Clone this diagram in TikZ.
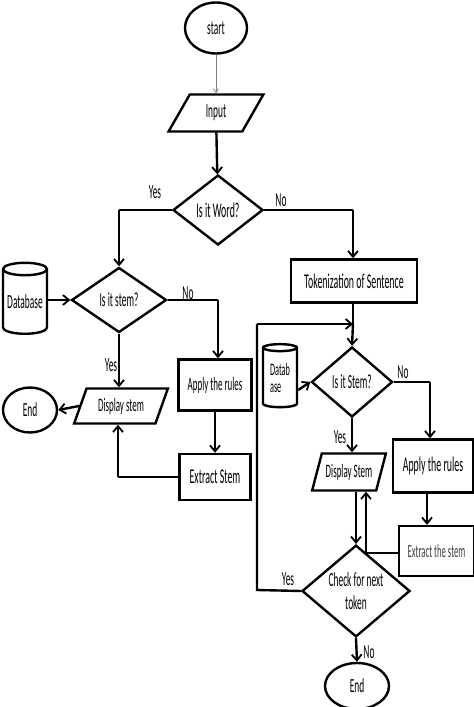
\documentclass[tikz,border=0pt]{standalone}
\usepackage{fontspec}
\setmainfont{Carlito}[FakeStretch=0.47]
\usetikzlibrary{shapes.geometric,arrows.meta}
\newcommand{\fs}[1]{\fontsize{#1}{#1}\selectfont}
\tikzset{
  x=1pt,y=-1pt,
  box/.style={draw,line width=2.4pt,inner sep=0pt,align=center},
  rectbox/.style={box,rectangle},
  decision/.style={box,diamond},
  para/.style={box,trapezium,trapezium left angle=63,trapezium right angle=117,trapezium stretches=true},
  oval/.style={box,ellipse},
  db/.style={box,cylinder,shape border rotate=90,aspect=0.35},
  conn/.style={line width=2.4pt,-{Straight Barb[length=6pt,width=10pt,line width=1.8pt]}},
  plain/.style={line width=2.4pt},
  lbl/.style={inner sep=0pt,font=\fs{20}}
}
\begin{document}
\begin{tikzpicture}
\useasboundingbox (0,0) rectangle (474,707);
% nodes
\node[oval,minimum width=62,minimum height=51,font=\fs{20}] (start) at (216,28) {\raisebox{-7pt}{start}};
\node[para,minimum width=95,minimum height=37,font=\fs{20}] (input) at (216,113) {Input};
\node[decision,minimum width=90,minimum height=70,font=\fs{21}] (word) at (218,210) {Is it Word?};
\node[decision,minimum width=95,minimum height=65,font=\fs{20}] (stem1) at (119,300) {Is it stem?};
\node[db,minimum width=44,minimum height=71,font=\fs{20}] (db1) at (25,302) {\raisebox{-6pt}{Database}};
\node[rectbox,minimum width=73,minimum height=51,font=\fs{19}] (apply1) at (215,385) {Apply the rules};
\node[rectbox,minimum width=71,minimum height=46,font=\fs{21}] (extract1) at (215,477) {Extract Stem};
\node[para,minimum width=94,minimum height=35,font=\fs{19}] (disp1) at (121,406) {Display stem};
\node[oval,minimum width=54,minimum height=45,font=\fs{20}] (end1) at (30,410) {End};
\node[rectbox,minimum width=126,minimum height=43,font=\fs{21}] (token) at (354,281) {Tokenization of Sentence};
\node[decision,minimum width=81,minimum height=70,font=\fs{20}] (stem2) at (352,382) {Is it Stem?};
\node[db,minimum width=34,minimum height=63,font=\fs{17.5},align=left] (db2) at (280,378) {\raisebox{-4pt}{Datab}\\[3pt]ase};
\node[rectbox,minimum width=80,minimum height=53,font=\fs{21}] (apply2) at (433,466) {Apply the rules};
\node[para,minimum width=74,minimum height=37,font=\fs{19}] (disp2) at (349,472) {Display Stem};
\node[rectbox,minimum width=75,minimum height=50,font=\fs{18.5},text=black!75] (extract2) at (436.5,551) {Extract the stem};
\node[decision,minimum width=108,minimum height=72,font=\fs{20}] (check) at (356,591) {Check for next\\[3pt]token};
\node[oval,minimum width=64,minimum height=46,font=\fs{20}] (end2) at (357,686) {End};
% helper coordinates
\coordinate (wl) at (119,210);
\coordinate (wr) at (353,210);
\coordinate (s1r) at (218,300);
\coordinate (e1l) at (118,477);
\coordinate (s2r) at (430,382);
\coordinate (e2l) at (366,553);
\coordinate (cl) at (257,590);
\coordinate (lt) at (257,324);
\coordinate (lj) at (353,324);
% connectors
\draw[line width=0.7pt,gray,-{Straight Barb[length=4pt,width=5pt]}] (start) -- (input);
\draw[conn] (input) -- (word);
\draw[plain] (word.west) -- (wl);
\draw[conn] (wl) -- (stem1.north);
\draw[plain] (word.east) -- (wr);
\draw[conn] (wr) -- (token.north -| wr);
\draw[conn] (db1.east |- stem1.west) -- (stem1.west);
\draw[plain] (stem1.east) -- (s1r);
\draw[conn] (s1r) -- (apply1.north -| s1r);
\draw[conn] (stem1.south) -- (disp1.north -| stem1.south);
\draw[conn] (disp1.west) -- (end1.east);
\draw[conn] (apply1) -- (extract1);
\draw[plain] (extract1.west |- e1l) -- (e1l);
\draw[conn] (e1l) -- (disp1.south -| e1l);
\draw[plain] (token.south -| lj) -- (lj);
\draw[conn] (lj) -- (stem2.north);
\draw[conn] ([yshift=-12pt]db2.east) -- (stem2.west);
\draw[plain] (stem2.east) -- (s2r);
\draw[conn] (s2r) -- (apply2.north -| s2r);
\draw[conn] (stem2.south) -- (disp2.north -| stem2.south);
\draw[conn] (apply2.south -| 427,0) -- (extract2.north -| 427,0);
\draw[plain] (extract2.west |- e2l) -- (e2l);
\draw[conn] (e2l) -- (disp2.south -| e2l);
\draw[conn] (disp2.south -| check.north) -- (check.north);
\draw[plain] (check.west) -- (cl) -- (lt);
\draw[conn] (lt) -- (lj);
\draw[conn] (check.south) -- (end2.north);
% labels
\node[lbl] (l1) at (155,192) {Yes};
\node[lbl] (l2) at (281,200) {No};
\node[lbl] (l3) at (188,293) {No};
\node[lbl] (l4) at (111,365) {Yes};
\node[lbl] (l5) at (403,372) {No};
\node[lbl] (l6) at (340,437) {Yes};
\node[lbl] (l7) at (288,579) {Yes};
\node[lbl] (l8) at (369,652) {No};
\end{tikzpicture}
\end{document}
